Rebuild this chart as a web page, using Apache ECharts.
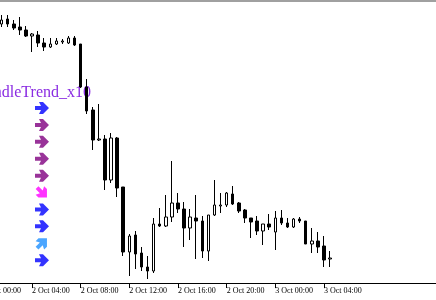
<!DOCTYPE html>
<html><head><meta charset="utf-8">
<script src="https://cdn.jsdelivr.net/npm/echarts@6/dist/echarts.min.js"></script>
<style>html,body{margin:0;padding:0;background:#fff}#c{width:436px;height:300px}</style>
</head><body><div id="c"></div>
<script>
// ---- data (M30 candles, 2 Oct 01:30 .. 3 Oct 04:30) ----
var openP  = [1.2276,1.2281,1.2276,1.2273,1.2270,1.2264,1.2265,1.2257,1.2253,1.2256,1.2258,1.2257,1.2262,1.2256,1.2213,1.2190,1.2160,1.2161,1.2120,1.2162,1.2113,1.2048,1.2065,1.2047,1.2033,1.2029,1.2076,1.2074,1.2083,1.2097,1.2091,1.2072,1.2082,1.2079,1.2049,1.2085,1.2094,1.2095,1.2106,1.2097,1.2090,1.2082,1.2079,1.2069,1.2076,1.2068,1.2082,1.2077,1.2073,1.2081,1.2079,1.2056,1.2059,1.2054,1.2041];
var closeP = [1.2280,1.2276,1.2272,1.2270,1.2264,1.2266,1.2257,1.2253,1.2256,1.2259,1.2259,1.2262,1.2255,1.2213,1.2189,1.2160,1.2161,1.2120,1.2162,1.2112,1.2048,1.2064,1.2046,1.2033,1.2029,1.2076,1.2074,1.2083,1.2097,1.2091,1.2072,1.2083,1.2079,1.2049,1.2085,1.2095,1.2095,1.2107,1.2096,1.2089,1.2082,1.2078,1.2069,1.2076,1.2073,1.2082,1.2077,1.2073,1.2081,1.2079,1.2056,1.2059,1.2053,1.2040,1.2042];
var highP  = [1.2285,1.2285,1.2280,1.2283,1.2274,1.2267,1.2269,1.2262,1.2262,1.2262,1.2261,1.2264,1.2264,1.2256,1.2221,1.2193,1.2196,1.2165,1.2167,1.2163,1.2113,1.2066,1.2069,1.2053,1.2044,1.2082,1.2092,1.2105,1.2139,1.2107,1.2098,1.2091,1.2105,1.2084,1.2085,1.2120,1.2107,1.2108,1.2114,1.2098,1.2091,1.2082,1.2084,1.2076,1.2086,1.2089,1.2090,1.2082,1.2082,1.2083,1.2079,1.2072,1.2068,1.2064,1.2049];
var lowP   = [1.2273,1.2273,1.2270,1.2265,1.2263,1.2248,1.2253,1.2249,1.2252,1.2255,1.2256,1.2256,1.2254,1.2212,1.2186,1.2150,1.2159,1.2110,1.2117,1.2103,1.2044,1.2024,1.2031,1.2029,1.2021,1.2027,1.2073,1.2073,1.2078,1.2087,1.2053,1.2060,1.2041,1.2042,1.2039,1.2084,1.2087,1.2093,1.2095,1.2087,1.2077,1.2062,1.2065,1.2055,1.2070,1.2050,1.2075,1.2072,1.2072,1.2077,1.2056,1.2047,1.2047,1.2033,1.2033];
var tickLabels = ['2 Oct 00:00','2 Oct 04:00','2 Oct 08:00','2 Oct 12:00','2 Oct 16:00','2 Oct 20:00','3 Oct 00:00','3 Oct 04:00'];
var leadingEmpty = 3;     // 00:00, 00:30, 01:00 have no bars in view
var totalSlots = 75;
var priceMin = 1.2017, priceMax = 1.2300;
// indicator panel
var arrowRows   = ['r1','r2','r3','r4','r5','r6','r7','r8','r9','r10'];
var arrowColors = ['#0000ff','#800080','#800080','#800080','#800080','#ff00ff','#0000ff','#0000ff','#1e90ff','#0000ff'];
var arrowDirs   = [0,0,0,0,0,-45,0,0,45,0];
var titleText = 'CandleTrend_x10';

// ---- build ----
function pad(n){return (n<10?'0':'')+n;}
var cats=[];
for (var k=0;k<totalSlots;k++){
  var mins=k*30, day=2+Math.floor(mins/1440), m=mins%1440;
  cats.push(day+' Oct '+pad(Math.floor(m/60))+':'+pad(m%60));
}
var ohlc=[];
for (var k=0;k<totalSlots;k++){
  var i=k-leadingEmpty;
  if(i>=0 && i<openP.length) ohlc.push([openP[i],closeP[i],lowP[i],highP[i]]);
  else ohlc.push('-');
}
var lastClose = closeP[closeP.length-1];
var showTick = function(idx,val){return tickLabels.indexOf(val)>=0;};
var arrowPath='path://M0,4 L6,4 L4,0 L8,0 L14,6 L8,12 L4,12 L6,8 L0,8 Z';
var arrowData = arrowRows.map(function(r,i){
  return {value:[0.5,r], symbolRotate:arrowDirs[i], itemStyle:{color:arrowColors[i]}};
});

var chart=echarts.init(document.getElementById('c'),null,{renderer:'canvas'});
chart.setOption({
  animation:false,
  backgroundColor:'#ffffff',
  grid:[
    {left:-19.7, width:456.2, top:0, height:283, outerBoundsMode:'none', containLabel:false},
    {left:35, width:14, top:99.6, height:169, outerBoundsMode:'none'}
  ],
  xAxis:[
    {type:'category', gridIndex:0, data:cats, boundaryGap:true,
     axisLine:{show:true, lineStyle:{color:'#000', width:1}},
     axisTick:{show:true, alignWithLabel:true, interval:showTick, length:5, lineStyle:{color:'#000'}},
     axisLabel:{show:true, interval:showTick, align:'left', margin:4,
       fontFamily:'Liberation Serif', fontSize:8, color:'#000'},
     splitLine:{show:false}},
    {type:'value', gridIndex:1, min:0, max:1, show:false}
  ],
  yAxis:[
    {type:'value', gridIndex:0, min:priceMin, max:priceMax, show:false, splitLine:{show:false}},
    {type:'category', gridIndex:1, data:arrowRows, inverse:true, show:false}
  ],
  series:[
    {type:'candlestick', xAxisIndex:0, yAxisIndex:0, data:ohlc, barWidth:3,
     itemStyle:{color:'#ffffff', color0:'#000000', borderColor:'#000000', borderColor0:'#000000', borderWidth:1},
     markLine:{silent:true, symbol:['none','none'], label:{show:false},
       lineStyle:{color:'#c8c8c8', width:1, type:'solid'},
       data:[{yAxis:lastClose}]}},
    {type:'scatter', xAxisIndex:1, yAxisIndex:1, data:arrowData,
     symbol:arrowPath, symbolSize:[14,12], silent:true}
  ],
  graphic:[
    {type:'line', shape:{x1:0,y1:1,x2:436,y2:1}, style:{stroke:'#a0a0a0', lineWidth:2}, silent:true},
    {type:'text', x:91, y:92.5, style:{text:titleText, fill:'#8a2be2', font:'16px "Liberation Serif"', textAlign:'right', textVerticalAlign:'middle'}, silent:true}
  ]
});
</script></body></html>
